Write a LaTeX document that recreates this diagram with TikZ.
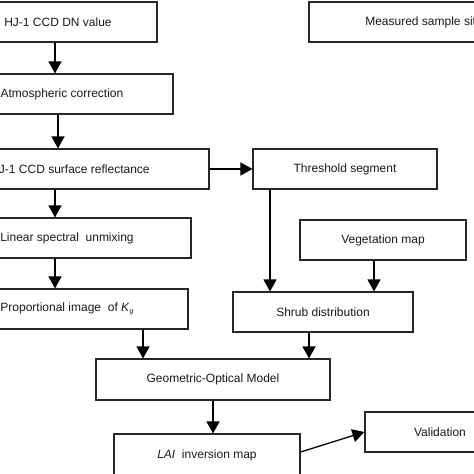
\documentclass[tikz,border=0pt]{standalone}
\usepackage{fontspec}
\setmainfont{Liberation Sans}
\usetikzlibrary{arrows.meta}
\tikzset{
  box/.style={draw=black!85, line width=1.1bp, rectangle, inner sep=0pt, minimum height=40bp, font=\fontsize{12bp}{14bp}\selectfont, text=black!90},
  arr/.style={draw=black, line width=1.3bp, -{Triangle[length=12bp,width=13bp]}}
}
\begin{document}
\begin{tikzpicture}[x=1bp,y=-1bp]
\useasboundingbox (0,0) rectangle (474,474);
\clip (0,0) rectangle (474,474);
\node[box, minimum width=198bp] (n1) at (58,22) {HJ-1 CCD DN value};
\node[box, minimum width=230bp] (n2) at (424,22) {Measured sample site};
\node[box, minimum width=222bp] (n3) at (62,94) {Atmospheric correction};
\node[box, minimum width=278bp] (n4) at (70,169) {HJ-1 CCD surface reflectance};
\node[box, minimum width=184bp] (n5) at (345,169) {Threshold segment};
\node[box, minimum width=248bp] (n6) at (67,238) {Linear spectral\ \ unmixing};
\node[box, minimum width=166bp] (n7) at (383,240) {Vegetation map};
\node[box, minimum width=242bp] (n8) at (67,309) {Proportional image\ \ of\ \textit{K}\raisebox{-0.35ex}{\fontsize{7bp}{8bp}\selectfont\textit{g}}};
\node[box, minimum width=180bp] (n9) at (323,312) {Shrub distribution};
\node[box, minimum width=234bp, minimum height=41bp] (n10) at (213,379.5) {Geometric-Optical Model};
\node[box, minimum width=186bp, minimum height=42bp] (n11) at (207,455) {\textit{LAI}\ \ inversion map};
\node[box, minimum width=150bp] (n12) at (440,432) {Validation};
\coordinate (xa) at (55,0);
\coordinate (xb) at (58,0);
\coordinate (xc) at (270,0);
\coordinate (xd) at (374,0);
\coordinate (xe) at (143,0);
\coordinate (xf) at (309,0);
\coordinate (xg) at (213,0);
\coordinate (ys) at (0,452);
\draw[arr] (n1.south -| xa) -- (n3.north -| xa);
\draw[arr] (n3.south -| xb) -- (n4.north -| xb);
\draw[arr] (n4.south -| xa) -- (n6.north -| xa);
\draw[arr] (n6.south -| xa) -- (n8.north -| xa);
\draw[arr] (n4.east) -- (n5.west);
\draw[arr] (n5.south -| xc) -- (n9.north -| xc);
\draw[arr] (n7.south -| xd) -- (n9.north -| xd);
\draw[arr] (n8.south -| xe) -- (n10.north -| xe);
\draw[arr] (n9.south -| xf) -- (n10.north -| xf);
\draw[arr] (n10.south -| xg) -- (n11.north -| xg);
\draw[arr] (n11.east |- ys) -- (n12.west);
\end{tikzpicture}
\end{document}
